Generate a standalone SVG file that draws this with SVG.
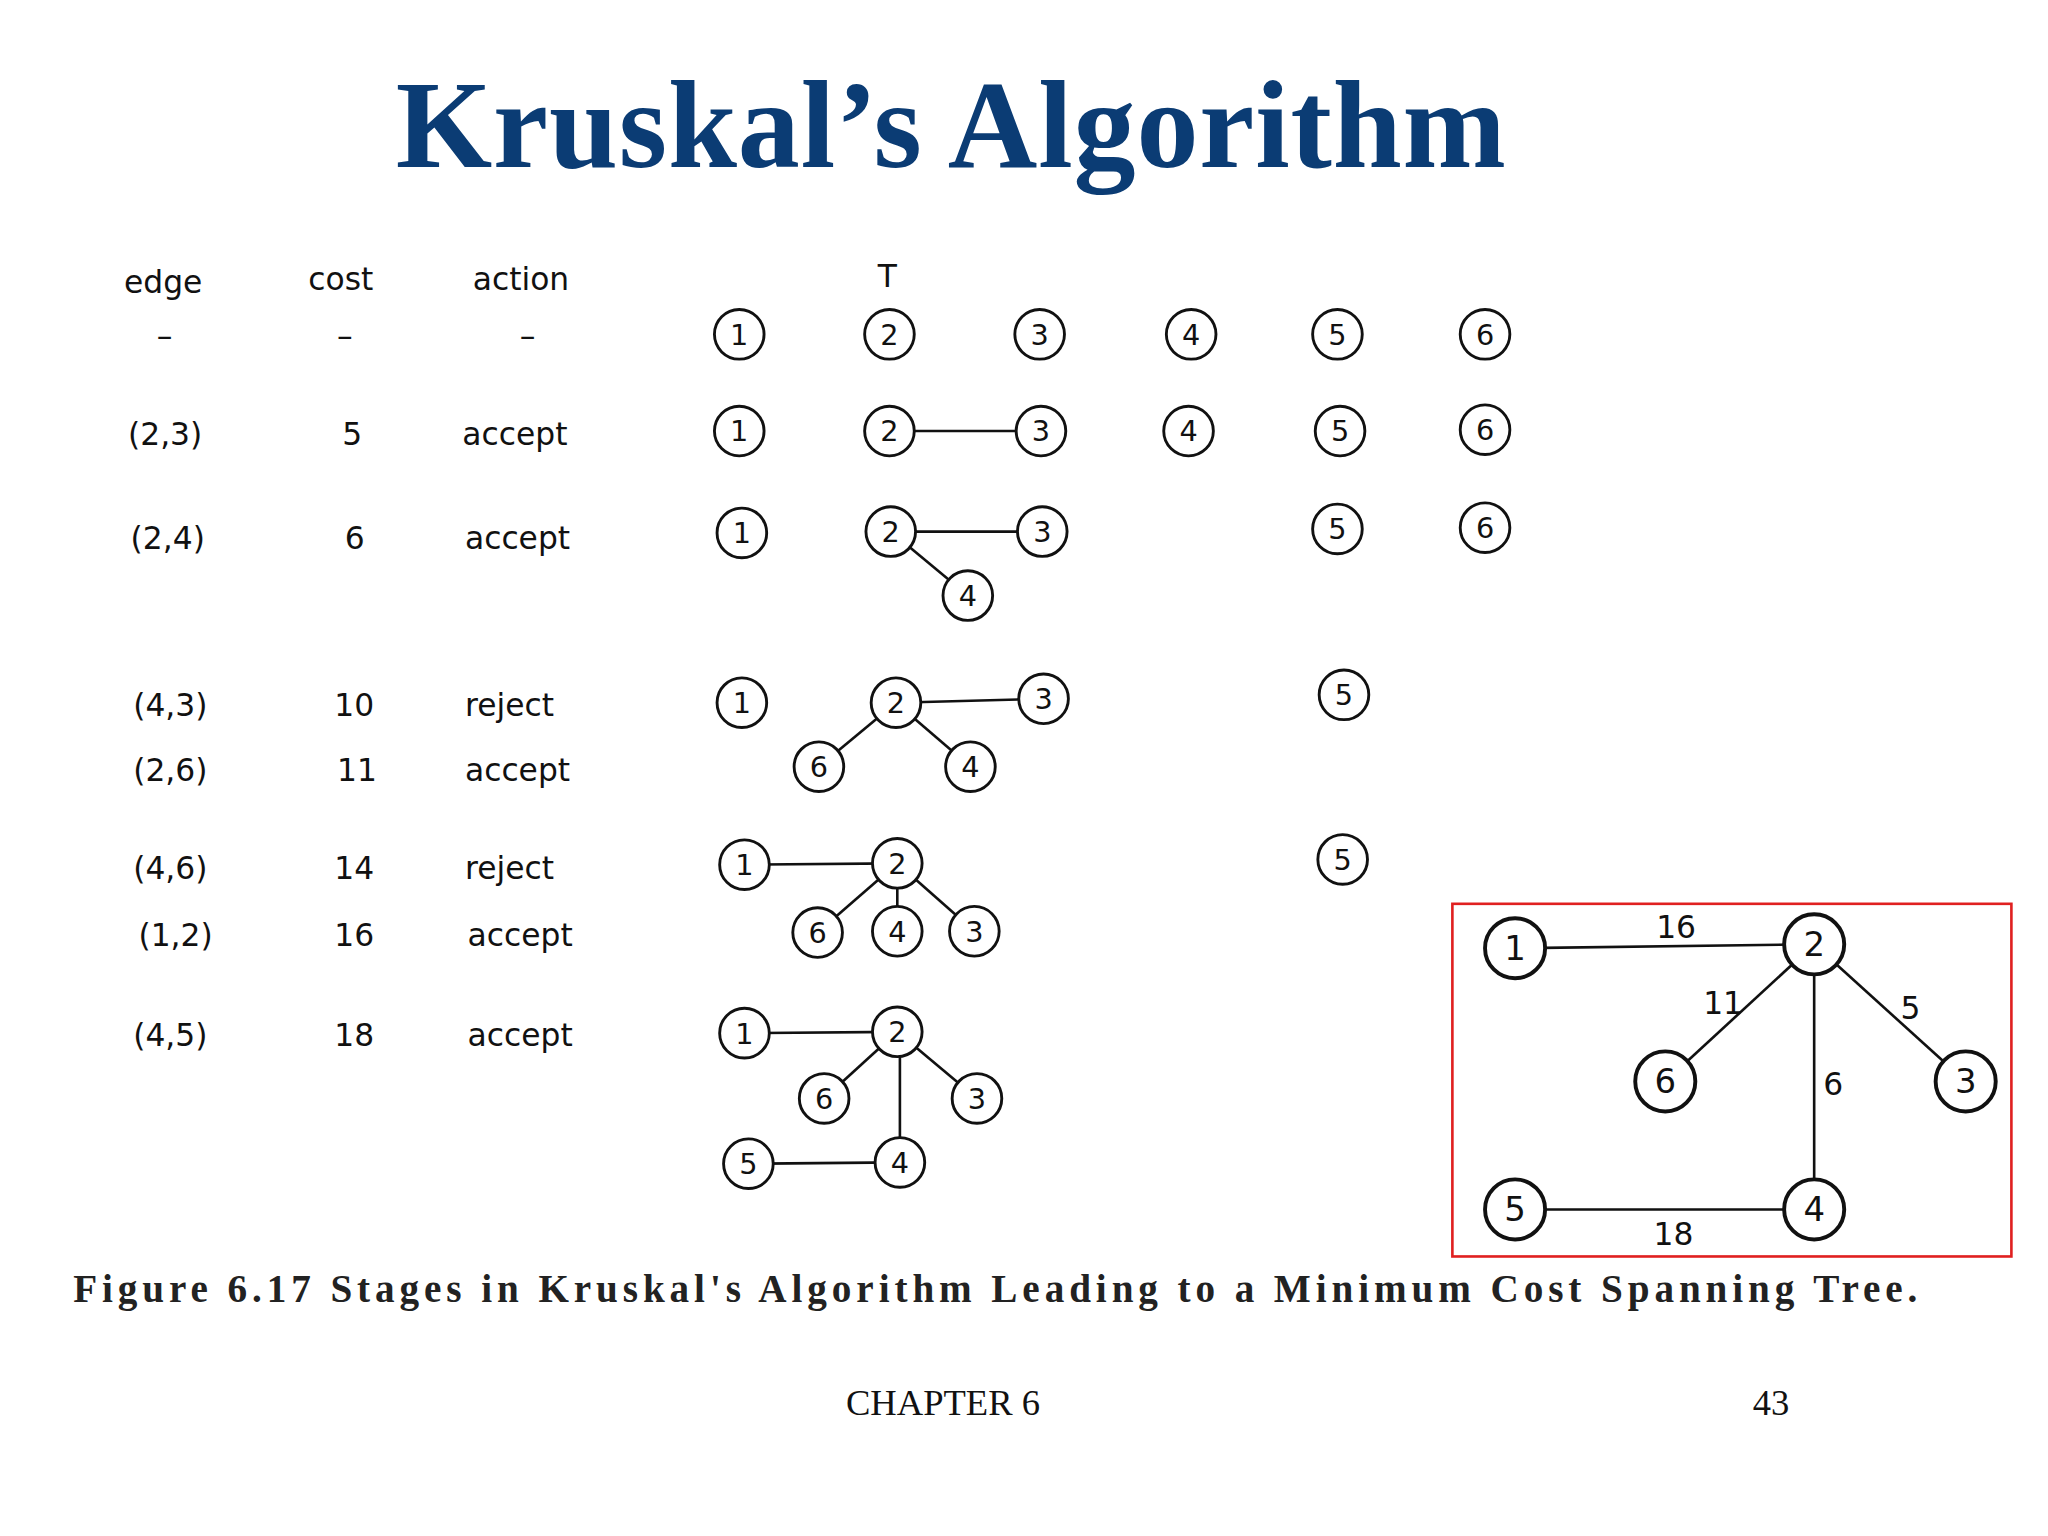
<svg xmlns="http://www.w3.org/2000/svg" width="2048" height="1536" viewBox="0 0 2048 1536">
<style>
.t{font-family:"DejaVu Sans",sans-serif;font-size:24px;fill:#111}
.n circle{fill:#fff;stroke:#111;stroke-width:2.2}
.n text{font-family:"DejaVu Sans",sans-serif;font-size:22px;fill:#111;text-anchor:middle}
.b circle{fill:#fff;stroke:#111;stroke-width:3}
.b text{font-family:"DejaVu Sans",sans-serif;font-size:26px;fill:#111;text-anchor:middle}
.e line{stroke:#111;stroke-width:2}
</style>
<rect width="2048" height="1536" fill="#fff"/>
<g transform="scale(1.3061)">
<text x="728" y="128" text-anchor="middle" font-family="Liberation Serif,serif" font-weight="bold" font-size="95" textLength="850" lengthAdjust="spacing" fill="#0b3c74">Kruskal’s Algorithm</text>
<g id="table" class="t">
<text x="95" y="224">edge</text><text x="236" y="222">cost</text><text x="362" y="222">action</text><text x="672" y="220">T</text>
<text x="120" y="266">–</text><text x="258" y="266">–</text><text x="398" y="266">–</text>
<text x="98" y="341">(2,3)</text><text x="262" y="341">5</text><text x="354" y="341">accept</text>
<text x="100" y="420">(2,4)</text><text x="264" y="420">6</text><text x="356" y="420">accept</text>
<text x="102" y="548">(4,3)</text><text x="256" y="548">10</text><text x="356" y="548">reject</text>
<text x="102" y="598">(2,6)</text><text x="258" y="598">11</text><text x="356" y="598">accept</text>
<text x="102" y="673">(4,6)</text><text x="256" y="673">14</text><text x="356" y="673">reject</text>
<text x="106" y="724">(1,2)</text><text x="256" y="724">16</text><text x="358" y="724">accept</text>
<text x="102" y="801">(4,5)</text><text x="256" y="801">18</text><text x="358" y="801">accept</text>
</g>
<g id="connectors" class="e">
<line x1="681" y1="330" x2="797" y2="330"/>
<line x1="682" y1="407" x2="798" y2="407"/><line x1="682" y1="407" x2="741" y2="456"/>
<line x1="686" y1="538" x2="799" y2="535"/><line x1="686" y1="538" x2="627" y2="587"/><line x1="686" y1="538" x2="743" y2="587"/>
<line x1="570" y1="662" x2="687" y2="661"/><line x1="687" y1="661" x2="626" y2="714"/><line x1="687" y1="661" x2="687" y2="713"/><line x1="687" y1="661" x2="746" y2="713"/>
<line x1="570" y1="791" x2="687" y2="790"/><line x1="687" y1="790" x2="631" y2="841"/><line x1="687" y1="790" x2="748" y2="841"/><line x1="689" y1="790" x2="689" y2="890"/><line x1="573" y1="891" x2="689" y2="890"/>
<line x1="1160" y1="726" x2="1389" y2="723"/><line x1="1389" y1="723" x2="1275" y2="828"/><line x1="1389" y1="723" x2="1505" y2="828"/><line x1="1389" y1="723" x2="1389" y2="926"/><line x1="1160" y1="926" x2="1389" y2="926"/>
</g>
<g class="n">
<g id="r0"><circle cx="566" cy="256" r="19"/><text x="566" y="264">1</text><circle cx="681" cy="256" r="19"/><text x="681" y="264">2</text><circle cx="796" cy="256" r="19"/><text x="796" y="264">3</text><circle cx="912" cy="256" r="19"/><text x="912" y="264">4</text><circle cx="1024" cy="256" r="19"/><text x="1024" y="264">5</text><circle cx="1137" cy="256" r="19"/><text x="1137" y="264">6</text></g>
<g id="r1"><circle cx="566" cy="330" r="19"/><text x="566" y="338">1</text><circle cx="681" cy="330" r="19"/><text x="681" y="338">2</text><circle cx="797" cy="330" r="19"/><text x="797" y="338">3</text><circle cx="910" cy="330" r="19"/><text x="910" y="338">4</text><circle cx="1026" cy="330" r="19"/><text x="1026" y="338">5</text><circle cx="1137" cy="329" r="19"/><text x="1137" y="337">6</text></g>
<g id="r2"><circle cx="568" cy="408" r="19"/><text x="568" y="416">1</text><circle cx="682" cy="407" r="19"/><text x="682" y="415">2</text><circle cx="798" cy="407" r="19"/><text x="798" y="415">3</text><circle cx="741" cy="456" r="19"/><text x="741" y="464">4</text><circle cx="1024" cy="405" r="19"/><text x="1024" y="413">5</text><circle cx="1137" cy="404" r="19"/><text x="1137" y="412">6</text></g>
<g id="r3"><circle cx="568" cy="538" r="19"/><text x="568" y="546">1</text><circle cx="686" cy="538" r="19"/><text x="686" y="546">2</text><circle cx="799" cy="535" r="19"/><text x="799" y="543">3</text><circle cx="627" cy="587" r="19"/><text x="627" y="595">6</text><circle cx="743" cy="587" r="19"/><text x="743" y="595">4</text><circle cx="1029" cy="532" r="19"/><text x="1029" y="540">5</text></g>
<g id="r4"><circle cx="570" cy="662" r="19"/><text x="570" y="670">1</text><circle cx="687" cy="661" r="19"/><text x="687" y="669">2</text><circle cx="626" cy="714" r="19"/><text x="626" y="722">6</text><circle cx="687" cy="713" r="19"/><text x="687" y="721">4</text><circle cx="746" cy="713" r="19"/><text x="746" y="721">3</text><circle cx="1028" cy="658" r="19"/><text x="1028" y="666">5</text></g>
<g id="r5"><circle cx="570" cy="791" r="19"/><text x="570" y="799">1</text><circle cx="687" cy="790" r="19"/><text x="687" y="798">2</text><circle cx="631" cy="841" r="19"/><text x="631" y="849">6</text><circle cx="748" cy="841" r="19"/><text x="748" y="849">3</text><circle cx="573" cy="891" r="19"/><text x="573" y="899">5</text><circle cx="689" cy="890" r="19"/><text x="689" y="898">4</text></g>
</g>
<rect x="1112" y="692" width="428" height="270" fill="none" stroke="#e02020" stroke-width="2"/>
<g class="b" id="final">
<circle cx="1160" cy="726" r="23"/><text x="1160" y="735">1</text>
<circle cx="1389" cy="723" r="23"/><text x="1389" y="732">2</text>
<circle cx="1275" cy="828" r="23"/><text x="1275" y="837">6</text>
<circle cx="1505" cy="828" r="23"/><text x="1505" y="837">3</text>
<circle cx="1160" cy="926" r="23"/><text x="1160" y="935">5</text>
<circle cx="1389" cy="926" r="23"/><text x="1389" y="935">4</text>
</g>
<g class="t" font-size="24">
<text x="1268" y="718">16</text><text x="1304" y="776">11</text><text x="1455" y="780">5</text><text x="1396" y="838">6</text><text x="1266" y="953">18</text>
</g>
<text x="56" y="997" font-family="Liberation Serif,serif" font-weight="bold" font-size="30" textLength="1412" lengthAdjust="spacing" fill="#222">Figure 6.17 Stages in Kruskal's Algorithm Leading to a Minimum Cost Spanning Tree.</text>
<text x="722" y="1083" text-anchor="middle" font-family="Liberation Serif,serif" font-size="28" fill="#111">CHAPTER 6</text>
<text x="1356" y="1083" text-anchor="middle" font-family="Liberation Serif,serif" font-size="28" fill="#111">43</text>
</g>
</svg>
